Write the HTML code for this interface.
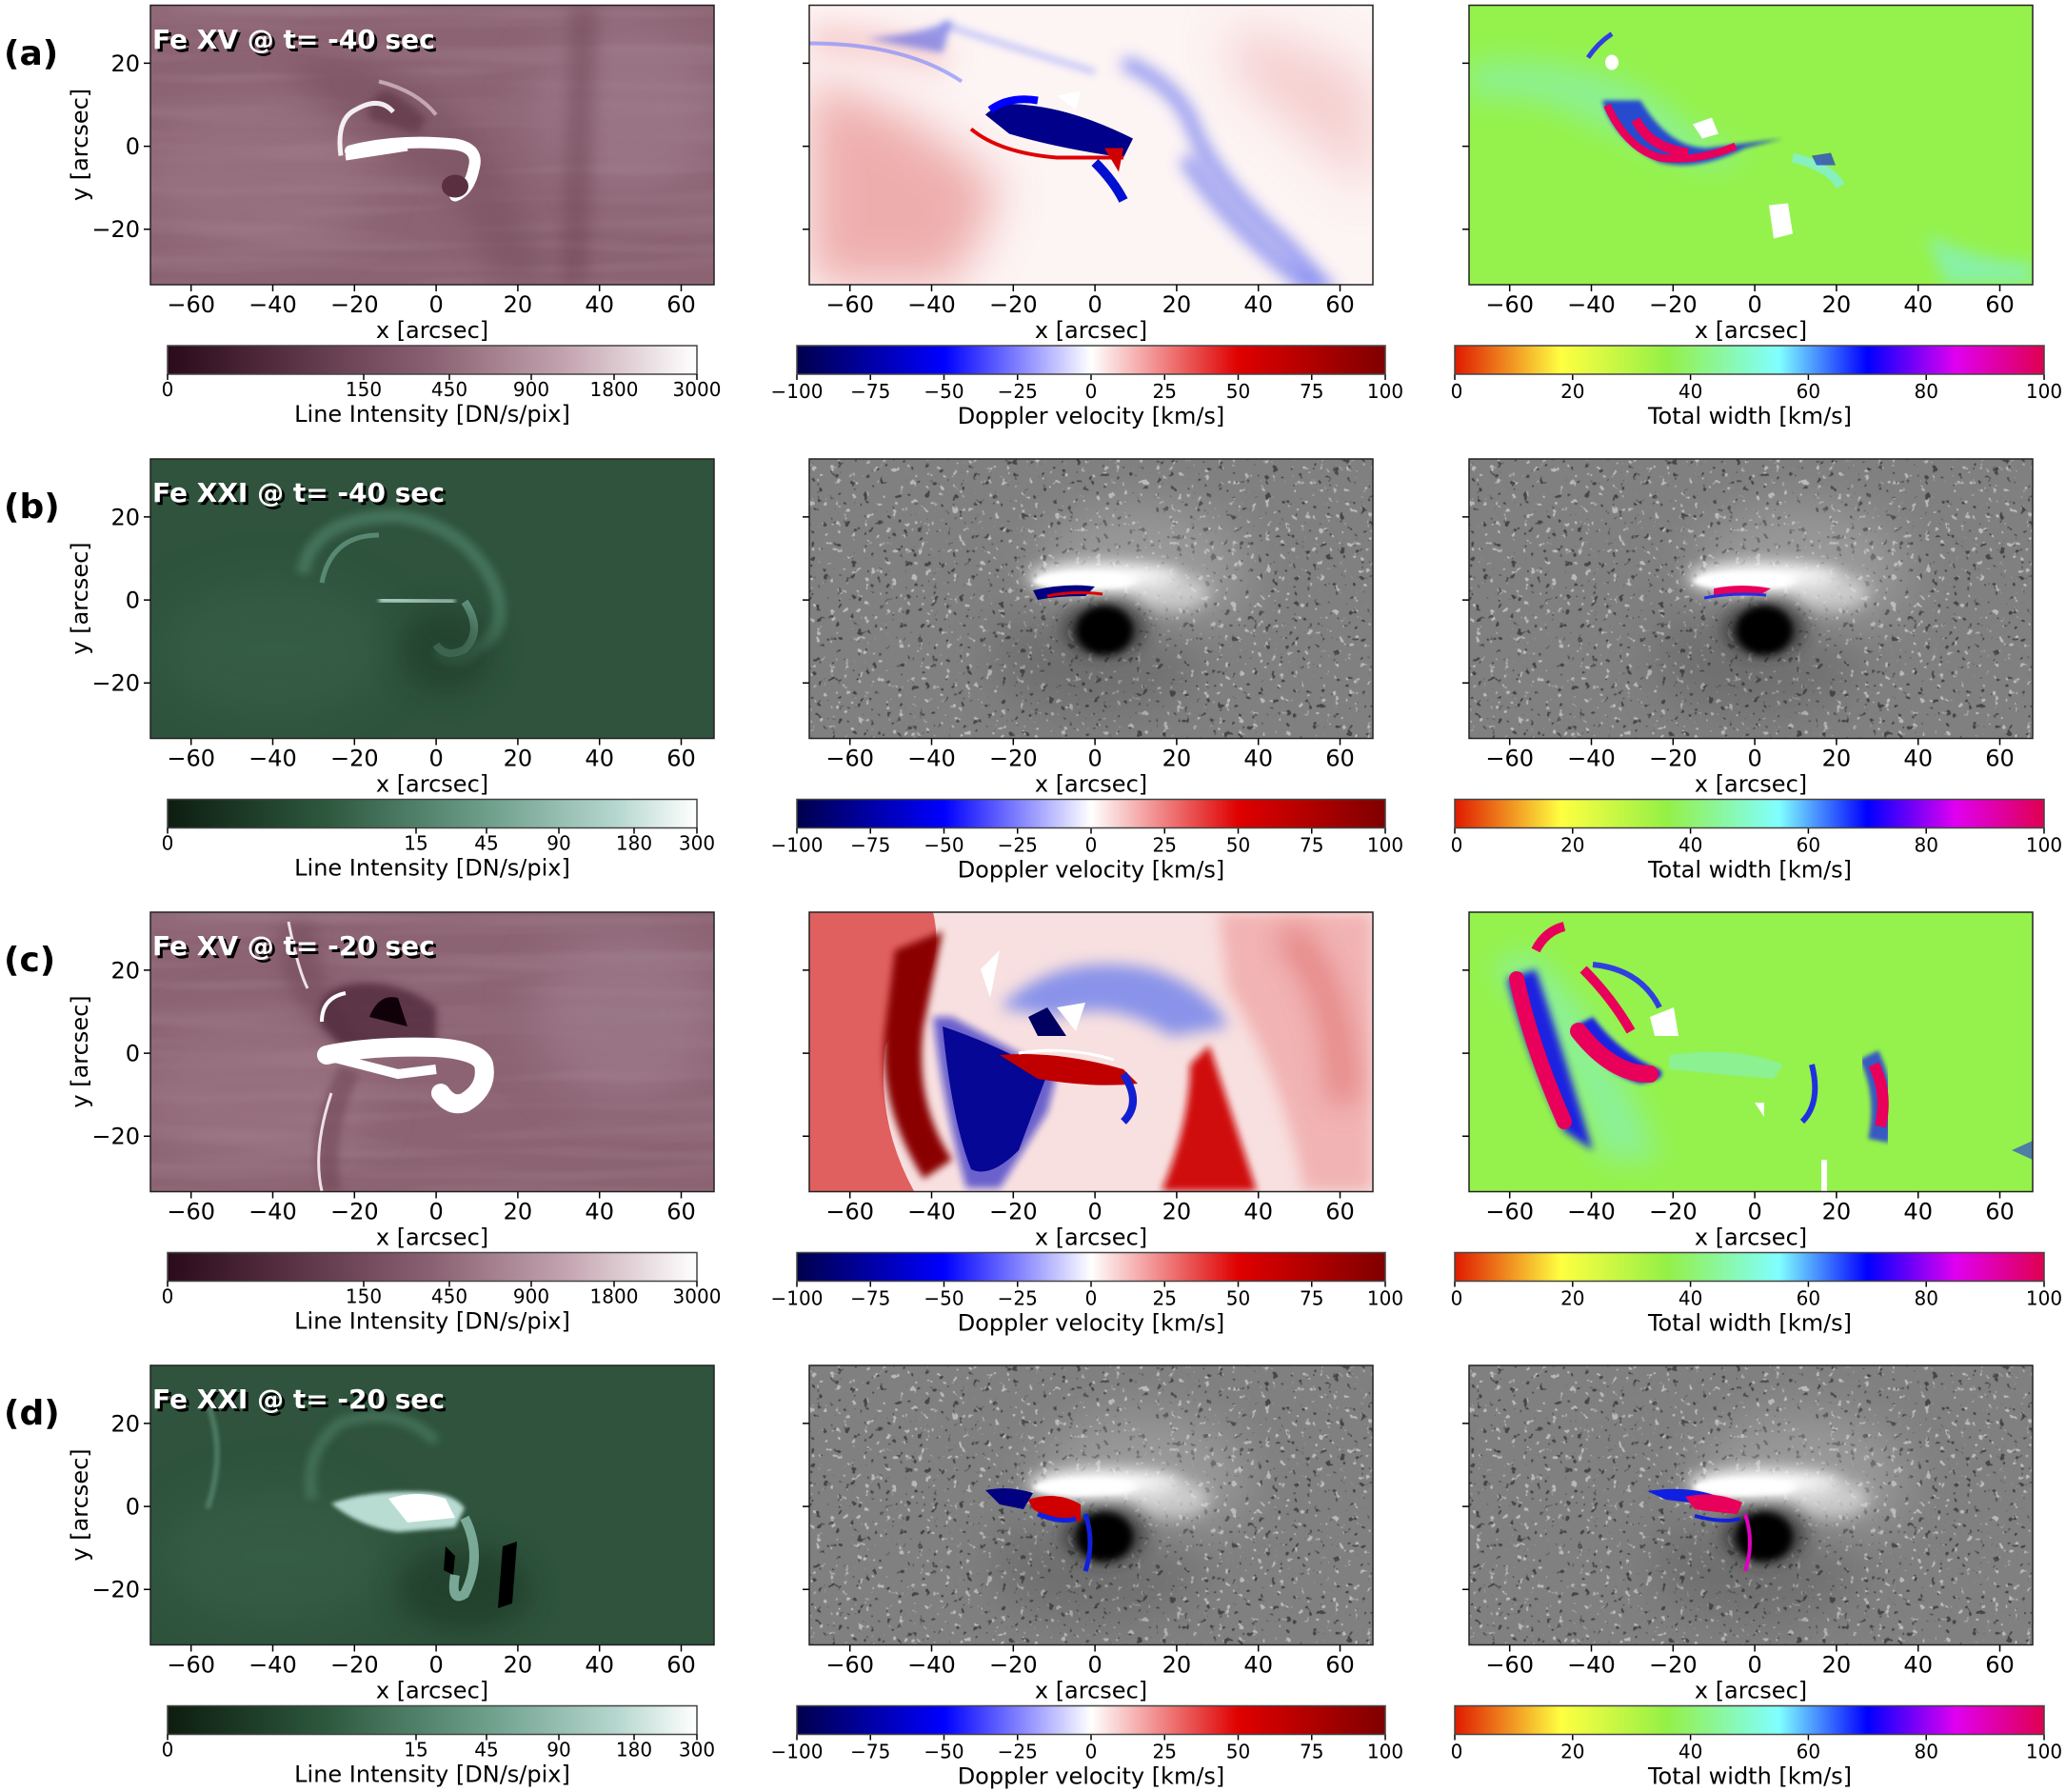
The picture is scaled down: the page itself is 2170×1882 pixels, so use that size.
<!DOCTYPE html>
<html><head><meta charset="utf-8"><style>
html,body{margin:0;padding:0;background:#fff;}
svg{display:block;}
text{font-family:"DejaVu Sans","Liberation Sans",sans-serif;fill:#000;}
.t{font-size:24px;}
.tm{font-size:20px;}
.lb{font-size:24px;}
.ttl{font-size:28px;font-weight:bold;}
.pl{font-size:36px;font-weight:bold;}
</style></head><body>
<svg width="2170" height="1882" viewBox="0 0 2170 1882" xmlns="http://www.w3.org/2000/svg">
<defs>
<filter id="b4" x="-50%" y="-50%" width="200%" height="200%"><feGaussianBlur stdDeviation="4"/></filter>
<filter id="b8" x="-50%" y="-50%" width="200%" height="200%"><feGaussianBlur stdDeviation="8"/></filter>
<filter id="b15" x="-50%" y="-50%" width="200%" height="200%"><feGaussianBlur stdDeviation="15"/></filter>
<filter id="b25" x="-50%" y="-50%" width="200%" height="200%"><feGaussianBlur stdDeviation="25"/></filter>
<filter id="b2" x="-50%" y="-50%" width="200%" height="200%"><feGaussianBlur stdDeviation="2"/></filter>
<filter id="specW" x="0" y="0" width="100%" height="100%">
 <feTurbulence type="fractalNoise" baseFrequency="0.14" numOctaves="2" seed="3"/>
 <feColorMatrix type="matrix" values="0 0 0 0 1  0 0 0 0 1  0 0 0 0 1  12 0 0 0 -8"/>
</filter>
<filter id="specK" x="0" y="0" width="100%" height="100%">
 <feTurbulence type="fractalNoise" baseFrequency="0.14" numOctaves="2" seed="11"/>
 <feColorMatrix type="matrix" values="0 0 0 0 0  0 0 0 0 0  0 0 0 0 0  0 12 0 0 -8"/>
</filter>
<filter id="streak" x="0" y="0" width="100%" height="100%">
 <feTurbulence type="fractalNoise" baseFrequency="0.004 0.05" numOctaves="2" seed="5"/>
 <feColorMatrix type="matrix" values="0 0 0 0 1  0 0 0 0 1  0 0 0 0 1  0.8 0 0 0 -0.35"/>
</filter>
<linearGradient id="gMar"><stop offset="0" stop-color="#2a0a1b"/><stop offset="0.25" stop-color="#5c3546"/><stop offset="0.5" stop-color="#8a6172"/><stop offset="0.75" stop-color="#c3a3af"/><stop offset="1" stop-color="#ffffff"/></linearGradient>
<linearGradient id="gGrn"><stop offset="0" stop-color="#0d1d10"/><stop offset="0.3" stop-color="#2d583e"/><stop offset="0.6" stop-color="#6c9e8a"/><stop offset="0.85" stop-color="#b6d7cf"/><stop offset="1" stop-color="#ffffff"/></linearGradient>
<linearGradient id="gDop"><stop offset="0" stop-color="#00004c"/><stop offset="0.25" stop-color="#0000ff"/><stop offset="0.5" stop-color="#ffffff"/><stop offset="0.75" stop-color="#e00000"/><stop offset="1" stop-color="#7f0000"/></linearGradient>
<linearGradient id="gWid"><stop offset="0" stop-color="#e01a00"/><stop offset="0.18" stop-color="#ffff40"/><stop offset="0.36" stop-color="#94f046"/><stop offset="0.55" stop-color="#80ffff"/><stop offset="0.7" stop-color="#0000ff"/><stop offset="0.85" stop-color="#e000f0"/><stop offset="1" stop-color="#e00050"/></linearGradient>

<symbol id="mag" viewBox="0 0 592 293" width="592" height="293">
 <rect width="592" height="293" fill="#808080"/>
 <rect width="592" height="293" filter="url(#specW)" opacity="0.45"/>
 <rect width="592" height="293" filter="url(#specK)" opacity="0.45"/>
 <ellipse cx="350" cy="120" rx="110" ry="70" fill="#c8c8c8" opacity="0.35" filter="url(#b25)"/>
 <ellipse cx="300" cy="210" rx="110" ry="60" fill="#404040" opacity="0.25" filter="url(#b25)"/>
 <ellipse cx="310" cy="125" rx="80" ry="16" fill="#fff" filter="url(#b8)"/>
 <ellipse cx="290" cy="128" rx="55" ry="9" fill="#fff" filter="url(#b2)"/>
 <ellipse cx="380" cy="140" rx="40" ry="20" fill="#e0e0e0" opacity="0.7" filter="url(#b8)"/>
 <ellipse cx="310" cy="178" rx="45" ry="30" fill="#202020" opacity="0.6" filter="url(#b8)"/>
 <ellipse cx="310" cy="180" rx="30" ry="26" fill="#000" filter="url(#b4)"/>
</symbol>

<symbol id="marA" viewBox="0 0 592 293" width="592" height="293">
 <rect width="592" height="293" fill="#8c6373"/>
 <rect width="592" height="293" filter="url(#streak)" opacity="0.3"/>
 <ellipse cx="110" cy="180" rx="120" ry="80" fill="#a07a88" opacity="0.5" filter="url(#b25)"/>
 <ellipse cx="500" cy="110" rx="100" ry="90" fill="#a08090" opacity="0.6" filter="url(#b25)"/>
 <path d="M440 0 L470 0 L460 293 L430 293Z" fill="#6a4050" opacity="0.4" filter="url(#b8)"/>
 <path d="M140 60 Q250 40 330 120 Q380 180 420 293 L360 293 Q330 200 280 170 Q200 130 140 60Z" fill="#6e4656" opacity="0.4" filter="url(#b15)"/>
 <path d="M230 120 Q225 95 250 90 Q270 100 290 120 L280 135Z" fill="#5a3040" opacity="0.6" filter="url(#b4)"/>
 <path d="M200 158 Q195 120 215 110 Q240 95 255 112" fill="none" stroke="#fff" stroke-width="5" opacity="0.9"/>
 <path d="M210 153 Q260 140 320 146 Q345 150 340 170 Q335 195 320 200" fill="none" stroke="#fff" stroke-width="12" stroke-linecap="round"/>
 <path d="M205 160 L270 150" stroke="#fff" stroke-width="6"/>
 <ellipse cx="320" cy="190" rx="14" ry="12" fill="#5a3040"/>
 <path d="M240 80 Q280 90 300 115" fill="none" stroke="#e0c8d0" stroke-width="4" opacity="0.7"/>
</symbol>

<symbol id="marC" viewBox="0 0 592 293" width="592" height="293">
 <rect width="592" height="293" fill="#8c6373"/>
 <rect width="592" height="293" filter="url(#streak)" opacity="0.3"/>
 <ellipse cx="110" cy="190" rx="120" ry="80" fill="#a07a88" opacity="0.5" filter="url(#b25)"/>
 <ellipse cx="500" cy="110" rx="100" ry="90" fill="#a08090" opacity="0.6" filter="url(#b25)"/>
 <path d="M140 10 Q120 80 200 140 L230 140 Q170 80 175 10Z" fill="#6e4656" opacity="0.5" filter="url(#b8)"/>
 <path d="M200 160 Q160 230 180 293 L200 293 Q190 230 220 170Z" fill="#6a4050" opacity="0.5" filter="url(#b4)"/>
 <path d="M180 120 Q170 80 215 75 Q260 70 300 100 L300 140 L200 140Z" fill="#4a2434" opacity="0.7" filter="url(#b4)"/>
 <path d="M230 110 Q240 85 260 90 L270 120 Z" fill="#100008"/>
 <path d="M180 115 Q180 90 205 85" fill="none" stroke="#fff" stroke-width="4"/>
 <path d="M185 150 Q230 140 300 142 Q345 145 350 160 Q355 185 330 200 Q315 205 305 190" fill="none" stroke="#fff" stroke-width="20" stroke-linecap="round"/>
 <path d="M190 152 L260 170 L300 165" fill="none" stroke="#fff" stroke-width="10"/>
 <path d="M190 190 Q170 250 180 293" fill="none" stroke="#f0e0e8" stroke-width="3"/>
 <path d="M145 10 Q155 60 165 80" fill="none" stroke="#f0e0e8" stroke-width="3"/>
</symbol>

<symbol id="grnB" viewBox="0 0 592 293" width="592" height="293">
 <rect width="592" height="293" fill="#2f533d"/>
 <ellipse cx="130" cy="200" rx="120" ry="70" fill="#3a654c" opacity="0.5" filter="url(#b25)"/>
 <path d="M160 120 Q170 60 260 60 Q330 70 360 130 Q380 180 340 200 Q320 220 300 200" fill="none" stroke="#4e8066" stroke-width="14" opacity="0.7" filter="url(#b4)"/>
 <path d="M180 130 Q190 80 240 80" fill="none" stroke="#6aa08a" stroke-width="5" opacity="0.7"/>
 <path d="M330 150 Q350 180 330 200 Q310 210 300 195" fill="none" stroke="#7ab09c" stroke-width="8" opacity="0.8"/>
 <path d="M240 148 L320 150" stroke="#c0e0d8" stroke-width="6" filter="url(#b2)"/>
 <ellipse cx="310" cy="200" rx="50" ry="45" fill="#1e3a28" opacity="0.6" filter="url(#b15)"/>
</symbol>

<symbol id="grnD" viewBox="0 0 592 293" width="592" height="293">
 <rect width="592" height="293" fill="#2f533d"/>
 <ellipse cx="130" cy="200" rx="120" ry="70" fill="#3a654c" opacity="0.5" filter="url(#b25)"/>
 <path d="M60 40 Q80 90 60 150" fill="none" stroke="#6aa08a" stroke-width="5" opacity="0.6" filter="url(#b2)"/>
 <path d="M170 140 Q160 90 200 60 Q260 40 300 80" fill="none" stroke="#4e8066" stroke-width="12" opacity="0.6" filter="url(#b4)"/>
 <ellipse cx="330" cy="235" rx="70" ry="45" fill="#1e3a28" opacity="0.7" filter="url(#b15)"/>
 <path d="M190 145 Q230 130 290 133 Q320 135 330 150 L320 170 L260 175 Q220 170 190 145Z" fill="#b8dcd2" filter="url(#b2)"/>
 <path d="M250 140 Q280 130 310 140 L320 160 L270 165Z" fill="#fff"/>
 <path d="M330 160 Q350 200 330 240 Q315 250 320 220" fill="none" stroke="#8ec0b0" stroke-width="10" opacity="0.8"/>
 <path d="M370 190 L385 185 L380 250 L365 255Z" fill="#000"/>
 <path d="M310 190 L320 200 L318 220 L308 215Z" fill="#000"/>
</symbol>

<symbol id="dopA" viewBox="0 0 592 293" width="592" height="293">
 <rect width="592" height="293" fill="#fdf4f4"/>
 <path d="M0 80 Q100 100 200 190 Q180 250 150 293 L0 293Z" fill="#e89090" opacity="0.7" filter="url(#b25)"/>
 <path d="M0 20 Q80 20 150 50 L140 70 Q60 50 0 50Z" fill="#f2b0b0" opacity="0.6" filter="url(#b15)"/>
 <path d="M440 20 Q540 40 592 80 L592 200 Q520 140 450 80Z" fill="#f0b8b8" opacity="0.6" filter="url(#b25)"/>
 <path d="M0 40 Q100 40 160 80" fill="none" stroke="#7080ff" stroke-width="4" opacity="0.6"/>
 <path d="M140 20 Q200 40 300 70" fill="none" stroke="#8090ff" stroke-width="6" opacity="0.5" filter="url(#b4)"/>
 <path d="M330 60 Q380 80 400 120 Q420 180 500 250 L540 293 L520 293 Q430 220 395 160" fill="none" stroke="#4050f0" stroke-width="14" opacity="0.6" filter="url(#b8)"/>
 <path d="M185 115 Q200 100 230 105 Q280 110 340 140 L330 160 Q260 150 210 135Z" fill="#00008a"/>
 <path d="M190 110 Q210 95 240 100" fill="none" stroke="#0000ff" stroke-width="8"/>
 <path d="M170 130 Q200 155 260 160 L330 160" fill="none" stroke="#e00000" stroke-width="4"/>
 <path d="M300 165 Q320 185 330 205" fill="none" stroke="#0010d0" stroke-width="10"/>
 <path d="M310 150 L330 150 L325 175Z" fill="#d00000"/>
 <path d="M260 95 L285 90 L280 110Z" fill="#fff"/>
 <path d="M60 35 Q120 30 150 15 L140 50Z" fill="#3040e0" opacity="0.5" filter="url(#b4)"/>
</symbol>

<symbol id="dopC" viewBox="0 0 592 293" width="592" height="293">
 <rect width="592" height="293" fill="#f8e0e0"/>
 <path d="M0 0 L130 0 Q140 40 120 80 L80 140 Q70 220 110 293 L0 293Z" fill="#e06060"/>
 <path d="M90 40 L140 20 L120 120 Q110 200 150 260 L120 280 Q70 200 80 120Z" fill="#8a0000" filter="url(#b4)"/>
 <path d="M140 120 Q200 140 250 170 L220 250 Q190 280 170 270 Q150 220 140 120Z" fill="#000055"/>
 <path d="M130 110 L150 110 L260 170 L250 210 L200 290 L165 290 Q140 200 130 110Z" fill="#1010c0" opacity="0.6" filter="url(#b4)"/>
 <path d="M200 100 Q260 40 360 60 Q420 80 440 120 L380 130 Q320 90 260 110Z" fill="#4060f0" opacity="0.6" filter="url(#b8)"/>
 <path d="M420 140 Q440 200 470 293 L370 293 Q400 220 400 160Z" fill="#d01010" filter="url(#b4)"/>
 <path d="M430 0 L592 0 L592 293 L520 293 Q500 180 440 80Z" fill="#f0a8a8" opacity="0.8" filter="url(#b8)"/>
 <path d="M500 20 Q560 80 560 200" fill="none" stroke="#e07070" stroke-width="30" opacity="0.7" filter="url(#b15)"/>
 <path d="M200 150 Q260 145 330 165 L345 180 Q300 185 240 175Z" fill="#c00000"/>
 <path d="M220 148 Q270 140 320 155" fill="none" stroke="#fff" stroke-width="3"/>
 <path d="M230 110 L250 100 L270 130 L240 130Z" fill="#000060"/>
 <path d="M260 100 L290 95 L280 125Z" fill="#fff"/>
 <path d="M180 60 L200 40 L190 90Z" fill="#fff"/>
 <path d="M330 170 Q350 200 330 220" fill="none" stroke="#1020d0" stroke-width="8"/>
</symbol>

<symbol id="widA" viewBox="0 0 592 293" width="592" height="293">
 <rect width="592" height="293" fill="#95f24c"/>
 <path d="M0 60 Q120 50 200 100 Q250 150 300 160 L250 170 Q180 150 100 110 Q40 90 0 100Z" fill="#86f0c0" opacity="0.6" filter="url(#b15)"/>
 <path d="M480 240 Q540 270 592 270 L592 293 L500 293Z" fill="#80f0e0" opacity="0.6" filter="url(#b8)"/>
 <path d="M140 100 Q150 140 200 165 Q240 175 290 150 L330 140 L250 150 Q210 150 180 100Z" fill="#1020e0" opacity="0.8" filter="url(#b2)"/>
 <path d="M145 105 Q165 150 200 160 Q240 165 280 148" fill="none" stroke="#e8005a" stroke-width="8"/>
 <path d="M175 120 Q190 150 230 155" fill="none" stroke="#e8005a" stroke-width="10"/>
 <path d="M125 55 Q135 40 150 30" fill="none" stroke="#3040e0" stroke-width="5"/>
 <ellipse cx="150" cy="60" rx="7" ry="8" fill="#fff"/>
 <path d="M235 125 L255 118 L262 135 L245 140Z" fill="#fff"/>
 <path d="M315 210 L335 208 L340 240 L320 245Z" fill="#fff"/>
 <path d="M340 160 Q380 170 390 190" fill="none" stroke="#80f0f0" stroke-width="10" opacity="0.7"/>
 <path d="M360 158 L380 155 L385 168 L365 168Z" fill="#2030d0" opacity="0.7"/>
</symbol>

<symbol id="widC" viewBox="0 0 592 293" width="592" height="293">
 <rect width="592" height="293" fill="#95f24c"/>
 <path d="M20 60 Q80 100 140 260 L200 260 Q140 100 60 40Z" fill="#86f0c8" opacity="0.6" filter="url(#b15)"/>
 <path d="M40 70 Q60 150 100 230 L130 250 Q100 150 70 60Z" fill="#1a20e0" filter="url(#b4)"/>
 <path d="M50 70 Q65 140 100 220" fill="none" stroke="#e8005a" stroke-width="16" stroke-linecap="round"/>
 <path d="M70 40 Q80 20 100 15" fill="none" stroke="#e8005a" stroke-width="10"/>
 <path d="M110 120 Q140 170 180 180 Q210 175 200 165 Q160 150 130 110Z" fill="#1a20e0" filter="url(#b2)"/>
 <path d="M115 125 Q150 170 190 170" fill="none" stroke="#e8005a" stroke-width="18" stroke-linecap="round"/>
 <path d="M120 60 Q150 90 170 125" fill="none" stroke="#e8005a" stroke-width="10"/>
 <path d="M130 55 Q180 60 200 100" fill="none" stroke="#3040e0" stroke-width="6"/>
 <path d="M190 110 L215 100 L220 130 L195 130Z" fill="#fff"/>
 <path d="M420 150 Q440 190 430 240" fill="none" stroke="#2030e0" stroke-width="22" opacity="0.8" filter="url(#b2)"/>
 <path d="M425 160 Q440 190 432 225" fill="none" stroke="#e8005a" stroke-width="12"/>
 <path d="M360 160 Q370 200 350 220" fill="none" stroke="#2030e0" stroke-width="6"/>
 <path d="M210 150 Q280 140 330 160 L320 175 Q260 170 210 165Z" fill="#86f0c0" opacity="0.6"/>
 <path d="M300 200 L310 200 L310 215Z" fill="#fff"/>
 <path d="M570 250 L592 240 L592 260Z" fill="#2030e0" opacity="0.6"/>
 <path d="M370 260 L376 260 L376 293 L370 293Z" fill="#fff"/>
</symbol>

<symbol id="chrome" viewBox="0 0 2170 480" width="2170" height="480">
 <g fill="none" stroke="#222" stroke-width="1.5">
  <rect x="158" y="5.5" width="592" height="293.5"/>
  <rect x="850" y="5.5" width="592" height="293.5"/>
  <rect x="1543" y="5.5" width="592" height="293.5"/>
 </g>
 <g stroke="#000" stroke-width="1.5">
  <path d="M200.7 299v7M286.5 299v7M372.3 299v7M458.1 299v7M543.9 299v7M629.7 299v7M715.5 299v7"/>
  <path d="M892.7 299v7M978.5 299v7M1064.3 299v7M1150.1 299v7M1235.9 299v7M1321.7 299v7M1407.5 299v7"/>
  <path d="M1585.7 299v7M1671.5 299v7M1757.3 299v7M1843.1 299v7M1928.9 299v7M2014.7 299v7M2100.5 299v7"/>
  <path d="M151 66.4h7M151 153.6h7M151 240.8h7M843 66.4h7M843 153.6h7M843 240.8h7M1536 66.4h7M1536 153.6h7M1536 240.8h7"/>
  <path d="M837 393v6M914.25 393v6M991.5 393v6M1068.75 393v6M1146 393v6M1223.25 393v6M1300.5 393v6M1377.75 393v6M1455 393v6"/>
  <path d="M1528 393v6M1651.8 393v6M1775.6 393v6M1899.4 393v6M2023.2 393v6M2147 393v6"/>
 </g>
 <rect x="837" y="363" width="618" height="30" fill="url(#gDop)" stroke="#444" stroke-width="1.5"/>
 <rect x="1528" y="363" width="619" height="30" fill="url(#gWid)" stroke="#444" stroke-width="1.5"/>
</symbol>
</defs>

<g>
 <use href="#marA" x="158" y="5.5"/>
 <use href="#dopA" x="850" y="5.5"/>
 <use href="#widA" x="1543" y="5.5"/>
 <use href="#chrome" x="0" y="0"/>
 <rect x="176" y="363" width="556" height="30" fill="url(#gMar)" stroke="#444" stroke-width="1.5"/>
 <path d="M176 393v6M382 393v6M472 393v6M558 393v6M645 393v6M732 393v6" stroke="#000" stroke-width="1.5"/>
 <text class="pl" x="4" y="68">(a)</text>
 <text class="ttl" x="163" y="54">Fe XV @ t= -40 sec</text>
 <text class="ttl" x="160" y="51" style="fill:#fff">Fe XV @ t= -40 sec</text>
</g>
<g>
 <use href="#marC" x="158" y="958"/>
 <use href="#dopC" x="850" y="958"/>
 <use href="#widC" x="1543" y="958"/>
 <use href="#chrome" x="0" y="952.5"/>
 <rect x="176" y="1315.5" width="556" height="30" fill="url(#gMar)" stroke="#444" stroke-width="1.5"/>
 <path d="M176 1345.5v6M382 1345.5v6M472 1345.5v6M558 1345.5v6M645 1345.5v6M732 1345.5v6" stroke="#000" stroke-width="1.5"/>
 <text class="pl" x="4" y="1020">(c)</text>
 <text class="ttl" x="163" y="1006">Fe XV @ t= -20 sec</text>
 <text class="ttl" x="160" y="1003" style="fill:#fff">Fe XV @ t= -20 sec</text>
</g>
<g>
 <use href="#grnB" x="158" y="482"/>
 <use href="#mag" x="850" y="482"/>
 <use href="#mag" x="1543" y="482"/>
 <path d="M1085 620 Q1120 612 1150 616 L1140 626 Q1110 626 1090 630Z" fill="#000080"/>
 <path d="M1100 626 Q1130 620 1158 624" fill="none" stroke="#e00000" stroke-width="3"/>
 <path d="M1800 618 Q1830 612 1860 618 L1850 624 Q1825 624 1800 628Z" fill="#e8005a"/>
 <path d="M1790 628 Q1820 622 1855 625" fill="none" stroke="#2030e0" stroke-width="3"/>
 <use href="#chrome" x="0" y="476.5"/>
 <rect x="176" y="839.5" width="556" height="30" fill="url(#gGrn)" stroke="#444" stroke-width="1.5"/>
 <path d="M176 869.5v6M437 869.5v6M511 869.5v6M587 869.5v6M666 869.5v6M732 869.5v6" stroke="#000" stroke-width="1.5"/>
 <text class="pl" x="4" y="544">(b)</text>
 <text class="ttl" x="163" y="530">Fe XXI @ t= -40 sec</text>
 <text class="ttl" x="160" y="527" style="fill:#fff">Fe XXI @ t= -40 sec</text>
</g>
<g>
 <use href="#grnD" x="158" y="1434"/>
 <use href="#mag" x="850" y="1434"/>
 <use href="#mag" x="1543" y="1434"/>
 <path d="M1035 1565 Q1060 1560 1085 1568 L1075 1585 L1050 1580Z" fill="#000080"/>
 <path d="M1080 1575 Q1110 1565 1135 1580 L1135 1598 Q1100 1595 1085 1585Z" fill="#d00000"/>
 <path d="M1090 1590 Q1115 1600 1130 1595" fill="none" stroke="#1020e0" stroke-width="5"/>
 <path d="M1140 1590 Q1150 1620 1140 1650" fill="none" stroke="#1020e0" stroke-width="5"/>
 <path d="M1730 1566 Q1770 1560 1800 1570 L1790 1580 L1750 1575Z" fill="#1020e0"/>
 <path d="M1770 1572 Q1800 1565 1830 1578 L1825 1590 Q1800 1588 1780 1585Z" fill="#e8005a"/>
 <path d="M1780 1592 Q1810 1600 1828 1595" fill="none" stroke="#1020e0" stroke-width="4"/>
 <path d="M1833 1590 Q1843 1620 1833 1650" fill="none" stroke="#e000c0" stroke-width="4"/>
 <use href="#chrome" x="0" y="1428.5"/>
 <rect x="176" y="1791.5" width="556" height="30" fill="url(#gGrn)" stroke="#444" stroke-width="1.5"/>
 <path d="M176 1821.5v6M437 1821.5v6M511 1821.5v6M587 1821.5v6M666 1821.5v6M732 1821.5v6" stroke="#000" stroke-width="1.5"/>
 <text class="pl" x="4" y="1496">(d)</text>
 <text class="ttl" x="163" y="1482">Fe XXI @ t= -20 sec</text>
 <text class="ttl" x="160" y="1479" style="fill:#fff">Fe XXI @ t= -20 sec</text>
</g>

<g text-anchor="middle">
 <text class="t" x="200.7" y="328">−60</text><text class="t" x="286.5" y="328">−40</text><text class="t" x="372.3" y="328">−20</text><text class="t" x="458.1" y="328">0</text><text class="t" x="543.9" y="328">20</text><text class="t" x="629.7" y="328">40</text><text class="t" x="715.5" y="328">60</text>
 <text class="t" x="892.7" y="328">−60</text><text class="t" x="978.5" y="328">−40</text><text class="t" x="1064.3" y="328">−20</text><text class="t" x="1150.1" y="328">0</text><text class="t" x="1235.9" y="328">20</text><text class="t" x="1321.7" y="328">40</text><text class="t" x="1407.5" y="328">60</text>
 <text class="t" x="1585.7" y="328">−60</text><text class="t" x="1671.5" y="328">−40</text><text class="t" x="1757.3" y="328">−20</text><text class="t" x="1843.1" y="328">0</text><text class="t" x="1928.9" y="328">20</text><text class="t" x="2014.7" y="328">40</text><text class="t" x="2100.5" y="328">60</text>
 <text class="lb" x="454" y="355">x [arcsec]</text><text class="lb" x="1146" y="355">x [arcsec]</text><text class="lb" x="1839" y="355">x [arcsec]</text>
 <text class="tm" x="176" y="416">0</text><text class="tm" x="382" y="416">150</text><text class="tm" x="472" y="416">450</text><text class="tm" x="558" y="416">900</text><text class="tm" x="645" y="416">1800</text><text class="tm" x="732" y="416">3000</text>
 <text class="tm" x="837" y="418">−100</text><text class="tm" x="914.25" y="418">−75</text><text class="tm" x="991.5" y="418">−50</text><text class="tm" x="1068.75" y="418">−25</text><text class="tm" x="1146" y="418">0</text><text class="tm" x="1223.25" y="418">25</text><text class="tm" x="1300.5" y="418">50</text><text class="tm" x="1377.75" y="418">75</text><text class="tm" x="1455" y="418">100</text>
 <text class="tm" x="1530" y="418">0</text><text class="tm" x="1651.8" y="418">20</text><text class="tm" x="1775.6" y="418">40</text><text class="tm" x="1899.4" y="418">60</text><text class="tm" x="2023.2" y="418">80</text><text class="tm" x="2147" y="418">100</text>
 <text class="lb" x="454" y="443">Line Intensity [DN/s/pix]</text><text class="lb" x="1146" y="445">Doppler velocity [km/s]</text><text class="lb" x="1838" y="445">Total width [km/s]</text>
</g>
<g text-anchor="end"><text class="t" x="147" y="75">20</text><text class="t" x="147" y="162">0</text><text class="t" x="147" y="249">−20</text></g>
<text class="lb" transform="translate(92,152) rotate(-90)" text-anchor="middle">y [arcsec]</text>

<g text-anchor="middle">
 <text class="t" x="200.7" y="804.5">−60</text><text class="t" x="286.5" y="804.5">−40</text><text class="t" x="372.3" y="804.5">−20</text><text class="t" x="458.1" y="804.5">0</text><text class="t" x="543.9" y="804.5">20</text><text class="t" x="629.7" y="804.5">40</text><text class="t" x="715.5" y="804.5">60</text>
 <text class="t" x="892.7" y="804.5">−60</text><text class="t" x="978.5" y="804.5">−40</text><text class="t" x="1064.3" y="804.5">−20</text><text class="t" x="1150.1" y="804.5">0</text><text class="t" x="1235.9" y="804.5">20</text><text class="t" x="1321.7" y="804.5">40</text><text class="t" x="1407.5" y="804.5">60</text>
 <text class="t" x="1585.7" y="804.5">−60</text><text class="t" x="1671.5" y="804.5">−40</text><text class="t" x="1757.3" y="804.5">−20</text><text class="t" x="1843.1" y="804.5">0</text><text class="t" x="1928.9" y="804.5">20</text><text class="t" x="2014.7" y="804.5">40</text><text class="t" x="2100.5" y="804.5">60</text>
 <text class="lb" x="454" y="831.5">x [arcsec]</text><text class="lb" x="1146" y="831.5">x [arcsec]</text><text class="lb" x="1839" y="831.5">x [arcsec]</text>
 <text class="tm" x="176" y="892.5">0</text><text class="tm" x="437" y="892.5">15</text><text class="tm" x="511" y="892.5">45</text><text class="tm" x="587" y="892.5">90</text><text class="tm" x="666" y="892.5">180</text><text class="tm" x="732" y="892.5">300</text>
 <text class="tm" x="837" y="894.5">−100</text><text class="tm" x="914.25" y="894.5">−75</text><text class="tm" x="991.5" y="894.5">−50</text><text class="tm" x="1068.75" y="894.5">−25</text><text class="tm" x="1146" y="894.5">0</text><text class="tm" x="1223.25" y="894.5">25</text><text class="tm" x="1300.5" y="894.5">50</text><text class="tm" x="1377.75" y="894.5">75</text><text class="tm" x="1455" y="894.5">100</text>
 <text class="tm" x="1530" y="894.5">0</text><text class="tm" x="1651.8" y="894.5">20</text><text class="tm" x="1775.6" y="894.5">40</text><text class="tm" x="1899.4" y="894.5">60</text><text class="tm" x="2023.2" y="894.5">80</text><text class="tm" x="2147" y="894.5">100</text>
 <text class="lb" x="454" y="919.5">Line Intensity [DN/s/pix]</text><text class="lb" x="1146" y="921.5">Doppler velocity [km/s]</text><text class="lb" x="1838" y="921.5">Total width [km/s]</text>
</g>
<g text-anchor="end"><text class="t" x="147" y="551.5">20</text><text class="t" x="147" y="638.5">0</text><text class="t" x="147" y="725.5">−20</text></g>
<text class="lb" transform="translate(92,628.5) rotate(-90)" text-anchor="middle">y [arcsec]</text>

<g text-anchor="middle">
 <text class="t" x="200.7" y="1280.5">−60</text><text class="t" x="286.5" y="1280.5">−40</text><text class="t" x="372.3" y="1280.5">−20</text><text class="t" x="458.1" y="1280.5">0</text><text class="t" x="543.9" y="1280.5">20</text><text class="t" x="629.7" y="1280.5">40</text><text class="t" x="715.5" y="1280.5">60</text>
 <text class="t" x="892.7" y="1280.5">−60</text><text class="t" x="978.5" y="1280.5">−40</text><text class="t" x="1064.3" y="1280.5">−20</text><text class="t" x="1150.1" y="1280.5">0</text><text class="t" x="1235.9" y="1280.5">20</text><text class="t" x="1321.7" y="1280.5">40</text><text class="t" x="1407.5" y="1280.5">60</text>
 <text class="t" x="1585.7" y="1280.5">−60</text><text class="t" x="1671.5" y="1280.5">−40</text><text class="t" x="1757.3" y="1280.5">−20</text><text class="t" x="1843.1" y="1280.5">0</text><text class="t" x="1928.9" y="1280.5">20</text><text class="t" x="2014.7" y="1280.5">40</text><text class="t" x="2100.5" y="1280.5">60</text>
 <text class="lb" x="454" y="1307.5">x [arcsec]</text><text class="lb" x="1146" y="1307.5">x [arcsec]</text><text class="lb" x="1839" y="1307.5">x [arcsec]</text>
 <text class="tm" x="176" y="1368.5">0</text><text class="tm" x="382" y="1368.5">150</text><text class="tm" x="472" y="1368.5">450</text><text class="tm" x="558" y="1368.5">900</text><text class="tm" x="645" y="1368.5">1800</text><text class="tm" x="732" y="1368.5">3000</text>
 <text class="tm" x="837" y="1370.5">−100</text><text class="tm" x="914.25" y="1370.5">−75</text><text class="tm" x="991.5" y="1370.5">−50</text><text class="tm" x="1068.75" y="1370.5">−25</text><text class="tm" x="1146" y="1370.5">0</text><text class="tm" x="1223.25" y="1370.5">25</text><text class="tm" x="1300.5" y="1370.5">50</text><text class="tm" x="1377.75" y="1370.5">75</text><text class="tm" x="1455" y="1370.5">100</text>
 <text class="tm" x="1530" y="1370.5">0</text><text class="tm" x="1651.8" y="1370.5">20</text><text class="tm" x="1775.6" y="1370.5">40</text><text class="tm" x="1899.4" y="1370.5">60</text><text class="tm" x="2023.2" y="1370.5">80</text><text class="tm" x="2147" y="1370.5">100</text>
 <text class="lb" x="454" y="1395.5">Line Intensity [DN/s/pix]</text><text class="lb" x="1146" y="1397.5">Doppler velocity [km/s]</text><text class="lb" x="1838" y="1397.5">Total width [km/s]</text>
</g>
<g text-anchor="end"><text class="t" x="147" y="1027.5">20</text><text class="t" x="147" y="1114.5">0</text><text class="t" x="147" y="1201.5">−20</text></g>
<text class="lb" transform="translate(92,1104.5) rotate(-90)" text-anchor="middle">y [arcsec]</text>

<g text-anchor="middle">
 <text class="t" x="200.7" y="1756.5">−60</text><text class="t" x="286.5" y="1756.5">−40</text><text class="t" x="372.3" y="1756.5">−20</text><text class="t" x="458.1" y="1756.5">0</text><text class="t" x="543.9" y="1756.5">20</text><text class="t" x="629.7" y="1756.5">40</text><text class="t" x="715.5" y="1756.5">60</text>
 <text class="t" x="892.7" y="1756.5">−60</text><text class="t" x="978.5" y="1756.5">−40</text><text class="t" x="1064.3" y="1756.5">−20</text><text class="t" x="1150.1" y="1756.5">0</text><text class="t" x="1235.9" y="1756.5">20</text><text class="t" x="1321.7" y="1756.5">40</text><text class="t" x="1407.5" y="1756.5">60</text>
 <text class="t" x="1585.7" y="1756.5">−60</text><text class="t" x="1671.5" y="1756.5">−40</text><text class="t" x="1757.3" y="1756.5">−20</text><text class="t" x="1843.1" y="1756.5">0</text><text class="t" x="1928.9" y="1756.5">20</text><text class="t" x="2014.7" y="1756.5">40</text><text class="t" x="2100.5" y="1756.5">60</text>
 <text class="lb" x="454" y="1783.5">x [arcsec]</text><text class="lb" x="1146" y="1783.5">x [arcsec]</text><text class="lb" x="1839" y="1783.5">x [arcsec]</text>
 <text class="tm" x="176" y="1844.5">0</text><text class="tm" x="437" y="1844.5">15</text><text class="tm" x="511" y="1844.5">45</text><text class="tm" x="587" y="1844.5">90</text><text class="tm" x="666" y="1844.5">180</text><text class="tm" x="732" y="1844.5">300</text>
 <text class="tm" x="837" y="1846.5">−100</text><text class="tm" x="914.25" y="1846.5">−75</text><text class="tm" x="991.5" y="1846.5">−50</text><text class="tm" x="1068.75" y="1846.5">−25</text><text class="tm" x="1146" y="1846.5">0</text><text class="tm" x="1223.25" y="1846.5">25</text><text class="tm" x="1300.5" y="1846.5">50</text><text class="tm" x="1377.75" y="1846.5">75</text><text class="tm" x="1455" y="1846.5">100</text>
 <text class="tm" x="1530" y="1846.5">0</text><text class="tm" x="1651.8" y="1846.5">20</text><text class="tm" x="1775.6" y="1846.5">40</text><text class="tm" x="1899.4" y="1846.5">60</text><text class="tm" x="2023.2" y="1846.5">80</text><text class="tm" x="2147" y="1846.5">100</text>
 <text class="lb" x="454" y="1871.5">Line Intensity [DN/s/pix]</text><text class="lb" x="1146" y="1873.5">Doppler velocity [km/s]</text><text class="lb" x="1838" y="1873.5">Total width [km/s]</text>
</g>
<g text-anchor="end"><text class="t" x="147" y="1503.5">20</text><text class="t" x="147" y="1590.5">0</text><text class="t" x="147" y="1677.5">−20</text></g>
<text class="lb" transform="translate(92,1580.5) rotate(-90)" text-anchor="middle">y [arcsec]</text>
</svg>
</body></html>
